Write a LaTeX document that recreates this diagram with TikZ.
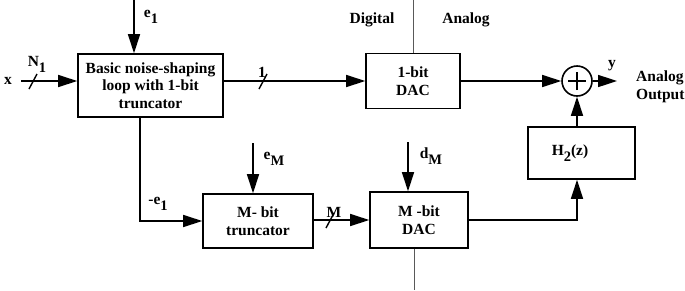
\documentclass[tikz,border=0pt]{standalone}
\usepackage{fontspec}
\setmainfont{Liberation Serif}
\usetikzlibrary{arrows.meta}
\newcommand\sbs[1]{\raisebox{-0.38em}{\fontsize{14.5}{14.5}\selectfont #1}}
\begin{document}
\begin{tikzpicture}[x=1pt,y=-1pt,
  font=\fontsize{15.5}{17.5}\selectfont\bfseries,
  blk/.style={draw, line width=1.6pt, inner sep=0pt, align=center},
  wire/.style={line width=1.6pt},
  arr/.style={wire,-{Triangle[length=19pt,width=12pt]}},
  thin/.style={line width=0.6pt, gray!70!black},
  slash/.style={line width=1.4pt},
  lbl/.style={inner sep=0pt}]
\useasboundingbox (0,0) rectangle (685,290);

% blocks
\node[blk, minimum width=145pt, minimum height=63pt] (b1) at (150.5,85.5)
  {Basic noise-shaping\\loop with 1-bit\\truncator};
\node[blk, minimum width=94pt, minimum height=55pt] (dac1) at (413,81) {1-bit\\DAC};
\node[draw, circle, line width=1.6pt, minimum size=30pt, inner sep=0pt] (sum) at (577,81) {};
\draw[line width=1.6pt] ([xshift=-9pt]sum.center) -- ([xshift=9pt]sum.center)
  ([yshift=-9pt]sum.center) -- ([yshift=9pt]sum.center);
\node[blk, minimum width=107pt, minimum height=52pt] (h2) at (581.5,153) {};
\node[lbl] (h2l) at (570,153) {H\sbs{2}(z)};
\node[blk, minimum width=98pt, minimum height=56pt] (mdac) at (419,220) {M -bit\\DAC};
\node[blk, minimum width=110pt, minimum height=54pt] (trunc) at (258,221) {M- bit\\truncator};

% coordinates
\coordinate (xin) at (21,81);
\coordinate (e1top) at (134,0);
\coordinate (emtop) at (253,143);
\coordinate (dmtop) at (408,142);
\coordinate (yout) at (617,81);
\coordinate (divtop) at (413,0);
\coordinate (divbot) at (414,290);
\coordinate (b1down) at (140,117);

% labels
\node[lbl] (xl) at (8,81) {x};
\node[lbl] (n1l) at (37,64) {N\sbs{1}};
\node[lbl] (e1l) at (151,17) {e\sbs{1}};
\node[lbl] (onel) at (262,72) {1};
\node[lbl] (digl) at (372,20) {Digital};
\node[lbl] (anl) at (466,20) {Analog};
\node[lbl] (yl) at (612,66) {y};
\node[lbl, anchor=west, align=left] (outl) at (636,87) {Analog\\Output};
\node[lbl] (me1l) at (158,204) {-e\sbs{1}};
\node[lbl] (eml) at (274,159) {e\sbs{M}};
\node[lbl] (ml) at (334,212) {M};
\node[lbl] (dml) at (431,156) {d\sbs{M}};

% connectors
\draw[arr] (xin) -- (xin -| b1.west);
\draw[slash] (29,89) -- (37,74);
\draw[arr] (e1top) -- (e1top |- b1.north);
\draw[arr] (dac1.west -| b1.east) -- (dac1.west);
\draw[slash] (259,89) -- (267,74);
\draw[arr] (dac1.east) -- (sum.west);
\draw[arr] (sum.east) -- (yout);
\draw[arr] (sum.south |- h2.north) -- (sum.south);
\draw[thin] (dac1.north -| divtop) -- (divtop);
\draw[arr] (b1down) -- (b1down |- trunc.west) -- (trunc.west);
\draw[arr] (emtop) -- (emtop |- trunc.north);
\draw[arr] (trunc.east) -- (mdac.west -| trunc.east) -- (mdac.west);
\draw[slash] (326,228) -- (334,213);
\draw[arr] (dmtop) -- (dmtop |- mdac.north);
\draw[thin] (divbot |- mdac.south) -- (divbot);
\draw[arr] (mdac.east) -| (sum.south |- h2.south);
\end{tikzpicture}
\end{document}
